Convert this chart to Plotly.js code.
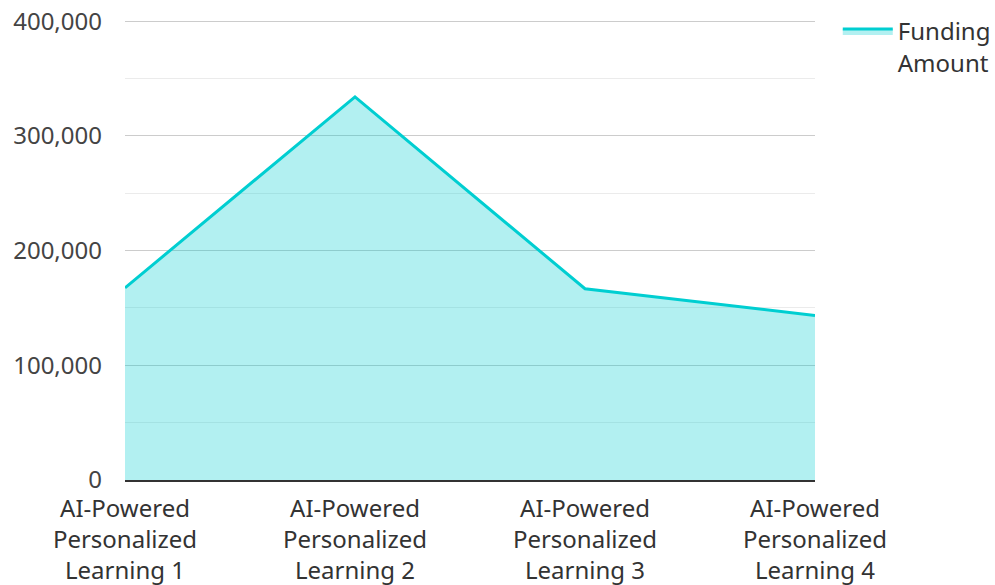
<!DOCTYPE html>
<html>
<head>
<meta charset="utf-8">
<script src="https://cdn.plot.ly/plotly-3.0.1.min.js"></script>
<style>html,body{margin:0;padding:0;background:#fff;}#chart{width:995px;height:585px;}</style>
</head>
<body>
<div id="chart"></div>
<script>
var categories = ["AI-Powered<br>Personalized<br>Learning 1", "AI-Powered<br>Personalized<br>Learning 2", "AI-Powered<br>Personalized<br>Learning 3", "AI-Powered<br>Personalized<br>Learning 4"];
var fundingAmount = [167500, 334000, 166700, 143400];
var seriesName = "Funding<br>Amount";
var yTicks = [0, 100000, 200000, 300000, 400000];
var yTickLabels = ["0", "100,000", "200,000", "300,000", "400,000"];

var trace = {
  x: categories,
  y: fundingAmount,
  name: seriesName,
  type: "scatter",
  mode: "lines",
  fill: "tozeroy",
  fillcolor: "rgba(0,206,209,0.3)",
  line: {color: "#00CED1", width: 3}
};

var layout = {
  width: 995, height: 585,
  margin: {l: 125, r: 180, t: 20, b: 105, autoexpand: false},
  paper_bgcolor: "#fff", plot_bgcolor: "#fff",
  font: {family: "Noto Sans, Open Sans, sans-serif", size: 24, color: "#444"},
  showlegend: true,
  legend: {x: 1.033, y: 1.024, xanchor: "left", yanchor: "top", valign: "top", itemwidth: 50, font: {size: 24, color: "#333"}, tracegroupgap: 0},
  xaxis: {
    type: "category",
    range: [0, 3],
    showgrid: false,
    showline: true, linecolor: "#333", linewidth: 2,
    ticks: "", ticklabelstandoff: 6, tickfont: {size: 24, color: "#333"},
    fixedrange: true
  },
  yaxis: {
    range: [0, 401000],
    tickvals: yTicks, ticktext: yTickLabels,
    showgrid: true, gridcolor: "#cccccc", gridwidth: 1,
    minor: {dtick: 50000, showgrid: true, gridcolor: "#ebebeb", gridwidth: 1},
    zeroline: false,
    ticks: "", ticklabelstandoff: 22,
    tickfont: {size: 24, color: "#444"},
    fixedrange: true
  }
};

Plotly.newPlot("chart", [trace], layout, {displayModeBar: false, staticPlot: true});
</script>
</body>
</html>
